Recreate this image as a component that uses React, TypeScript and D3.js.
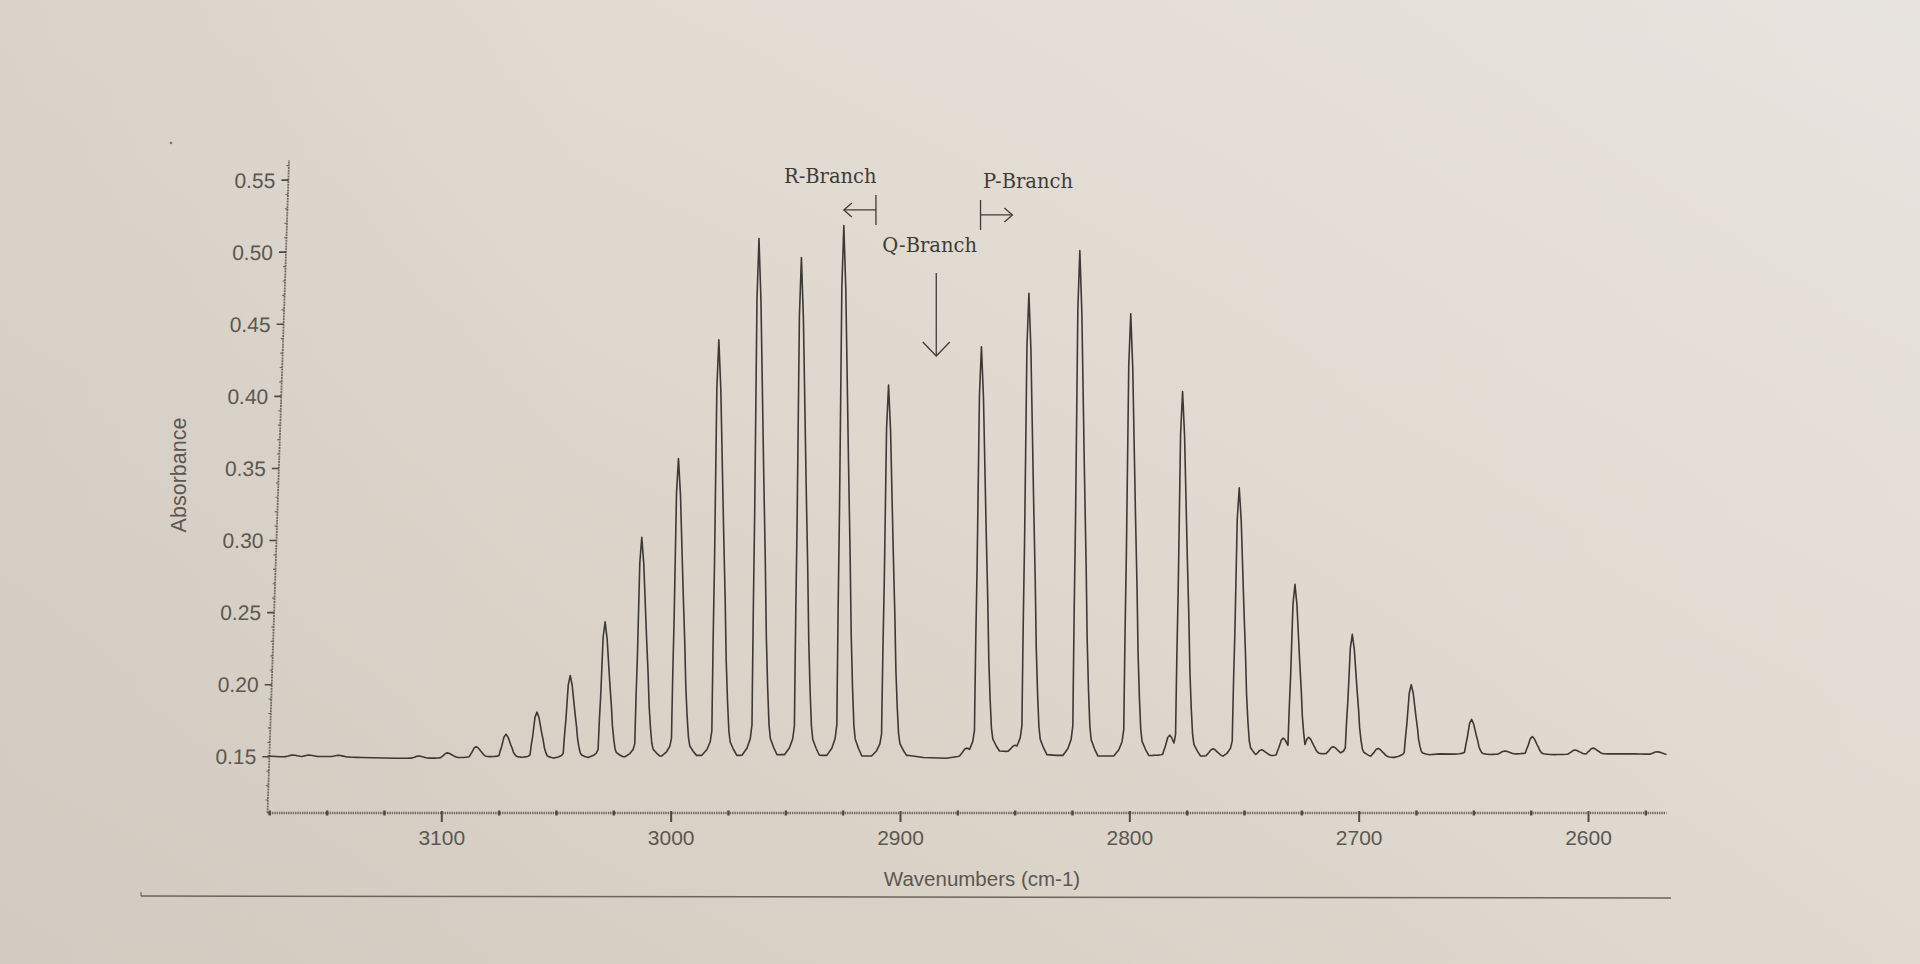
import React from "react";
import * as d3 from "d3";

// ---------- data ----------
const yTickValues = [0.15, 0.2, 0.25, 0.3, 0.35, 0.4, 0.45, 0.5, 0.55];
const yTickLabels = ["0.15", "0.20", "0.25", "0.30", "0.35", "0.40", "0.45", "0.50", "0.55"];
const xTickValues = [3100, 3000, 2900, 2800, 2700, 2600];
const xTickLabels = ["3100", "3000", "2900", "2800", "2700", "2600"];

// main rotational lines (R-branch then P-branch)
const peakWn = [3072, 3058.5, 3044, 3028.8, 3012.8, 2996.8, 2979.2, 2961.7, 2943.2, 2924.7, 2905.2,
  2864.7, 2844.0, 2821.8, 2799.6, 2777.0, 2752.3, 2728.0, 2703.0, 2677.3, 2651.0, 2624.5, 2598.0];
const peakAbs = [0.1656, 0.181, 0.2064, 0.2436, 0.3023, 0.3568, 0.4393, 0.5094, 0.4962, 0.5185, 0.4078,
  0.4343, 0.4715, 0.5012, 0.4573, 0.4034, 0.3365, 0.2696, 0.2349, 0.2, 0.176, 0.164, 0.156];

// small bumps near the baseline
const bumpWn = [3165, 3158, 3145, 3110, 3097.5, 3085, 2871.2, 2850, 2782.6, 2763.7, 2742.6, 2733.1,
  2722, 2711.3, 2691.7, 2636.5, 2605.9, 2570];
const bumpAbs = [0.1512, 0.1512, 0.151, 0.1505, 0.1527, 0.157, 0.156, 0.158, 0.165, 0.1555, 0.1548, 0.163,
  0.1635, 0.157, 0.1558, 0.154, 0.1547, 0.1535];

// baseline between the lines
const baseWn = [2566, 2580, 2590, 2615, 2630, 2645, 2665, 2685, 2697, 2715, 2740, 2758, 2770, 2789, 2810,
  2832, 2857, 2875, 2880, 2890, 2897, 2915, 2934, 2952, 2970, 2988, 3005, 3020, 3036, 3051, 3065, 3078,
  3090, 3104, 3120, 3135, 3150, 3170, 3176];
const baseAbs = [0.1515, 0.152, 0.152, 0.1515, 0.152, 0.1515, 0.152, 0.1495, 0.1505, 0.152, 0.1505, 0.15,
  0.1505, 0.151, 0.1505, 0.151, 0.154, 0.15, 0.149, 0.1495, 0.151, 0.1505, 0.151, 0.1515, 0.151, 0.151,
  0.1505, 0.15, 0.1495, 0.149, 0.1495, 0.15, 0.1495, 0.149, 0.149, 0.1495, 0.1502, 0.15, 0.1505];

// line shape read from the R(0) line: offset below centre (cm-1) -> fraction of height
const profileOffset = [-7.4, -5.2, -3.8, -3.05, -2.9, -2.47, -1.89, -0.87, 0, 0.87, 1.45, 2.03, 2.76, 3.2, 3.78, 4.36, 4.94, 6.4, 7.85];
const profileFrac = [0, 0.014, 0.032, 0.059, 0.122, 0.284, 0.464, 0.883, 1, 0.878, 0.716, 0.554, 0.374, 0.23, 0.13, 0.059, 0.032, 0.014, 0];

// annotations (anchored in data units)
const annoLabels = ["R-Branch", "P-Branch", "Q-Branch"];
const annoWn = [2950.8, 2864.0, 2907.9];
const annoAbs = [0.548, 0.5445, 0.5001];

const W = 1920;
const H = 964;

export default function App() {
  const x = d3.scaleLinear().domain([3176, 2566]).range([267.5, 1666.5]);
  const y = d3.scaleLinear().domain([0.111, 0.564]).range([813, 159.9]);

  const baseAt = d3.scaleLinear().domain(baseWn).range(baseAbs).clamp(true);
  const prof = d3.scaleLinear().domain(profileOffset).range(profileFrac).clamp(true);

  const peaks = peakWn.map((w, i) => ({ c: w, h: peakAbs[i] }))
    .concat(bumpWn.map((w, i) => ({ c: w, h: bumpAbs[i] })));

  const wnSet: number[] = [...baseWn];
  peaks.forEach((p) => profileOffset.forEach((o) => wnSet.push(p.c - o)));
  const [d0, d1] = [2566, 3176];
  const verts = Array.from(new Set(wnSet.filter((w) => w >= d0 && w <= d1)))
    .sort((a, b) => b - a)
    .map((w) => {
      let extra = 0;
      peaks.forEach((p) => {
        if (Math.abs(w - p.c) <= 8) {
          const v = prof(p.c - w) * (p.h - baseAt(p.c));
          if (v > extra) extra = v;
        }
      });
      return [w, baseAt(w) + extra] as [number, number];
    });

  const line = d3.line<[number, number]>().x((d) => x(d[0])).y((d) => y(d[1]));
  const pathD = line(verts) || "";

  const yB = y(0.111);
  const yTop = y(0.564);
  const xL = x(3176);
  const xR = x(2566);
  const skewAngle = 1.89;

  const textCol = "#5b5751";
  const axisCol = "#6f6a63";
  const lineCol = "#3d3935";
  const annoCol = "#3f3b37";

  const mediumTicks = d3.range(2575, 3176, 25).filter((v) => v % 100 !== 0);
  const minorY = d3.range(0.12, 0.565, 0.01);

  const ax = (i: number) => x(annoWn[i]);
  const ay = (i: number) => y(annoAbs[i]);

  // arrow anchors in data units
  const rBar = x(2910.7), rTip = x(2924.7);
  const pBar = x(2865.1), pTip = x(2851.2);
  const qX = x(2884.4);

  return (
    <svg width={W} height={H} style={{ position: "absolute", left: 0, top: 0 }}>
      <defs>
        <linearGradient id="bg" x1="1" y1="0" x2="0" y2="1">
          <stop offset="0" stopColor="#e7e3dd" />
          <stop offset="0.45" stopColor="#e0d9cf" />
          <stop offset="1" stopColor="#d3cbbf" />
        </linearGradient>
        <linearGradient id="bg2" x1="0" y1="0" x2="1" y2="0">
          <stop offset="0" stopColor="#cfcac3" stopOpacity="0.35" />
          <stop offset="0.3" stopColor="#cfcac3" stopOpacity="0" />
          <stop offset="1" stopColor="#ffffff" stopOpacity="0.05" />
        </linearGradient>
      </defs>
      <rect x={0} y={0} width={W} height={H} fill="url(#bg)" />
      <rect x={0} y={0} width={W} height={H} fill="url(#bg2)" />

      {/* x axis */}
      <line x1={xL} x2={xR} y1={yB} y2={yB} stroke={axisCol} strokeWidth={2.4} strokeDasharray="1.4 0.9" />
      {mediumTicks.map((v) => (
        <rect key={"m" + v} x={x(v) - 1.2} y={yB - 2.5} width={2.4} height={5} fill="#4e4a45" />
      ))}
      {xTickValues.map((v, i) => (
        <g key={"xt" + v}>
          <line x1={x(v)} x2={x(v)} y1={yB - 2} y2={yB + 9} stroke="#4e4a45" strokeWidth={2} />
          <text x={x(v)} y={845} textAnchor="middle" fontFamily="Liberation Sans, Arial, sans-serif" fontSize={21} fill={textCol}>
            {xTickLabels[i]}
          </text>
        </g>
      ))}
      <text x={982} y={886} textAnchor="middle" fontFamily="Liberation Sans, Arial, sans-serif" fontSize={20.5} fill={textCol}>
        Wavenumbers (cm-1)
      </text>

      {/* y axis (paper leans slightly) */}
      <g transform={`translate(0,${yB}) skewX(${-skewAngle}) translate(0,${-yB})`}>
        <line x1={xL} x2={xL} y1={yB} y2={yTop} stroke={axisCol} strokeWidth={1.8} strokeDasharray="2 0.8" />
        {minorY.map((v) => (
          <line key={"my" + v.toFixed(2)} x1={xL - 2.5} x2={xL} y1={y(v)} y2={y(v)} stroke={axisCol} strokeWidth={1.2} />
        ))}
        {yTickValues.map((v, i) => (
          <g key={"yt" + v}>
            <line x1={xL - 7} x2={xL} y1={y(v)} y2={y(v)} stroke="#4e4a45" strokeWidth={1.6} />
            <text x={254.5} y={y(v)} dy="0.36em" textAnchor="end" fontFamily="Liberation Sans, Arial, sans-serif" fontSize={21} fill={textCol}>
              {yTickLabels[i]}
            </text>
          </g>
        ))}
      </g>
      <text transform={`translate(178,475) rotate(-90)`} textAnchor="middle" dy="0.35em" fontFamily="Liberation Sans, Arial, sans-serif" fontSize={21.5} fill={textCol}>
        Absorbance
      </text>

      {/* spectrum */}
      <path d={pathD} fill="none" stroke={lineCol} strokeWidth={1.6} strokeLinejoin="round" />

      {/* annotations */}
      {annoLabels.map((t, i) => (
        <text key={t} x={ax(i)} y={ay(i)} fontFamily="DejaVu Serif, Liberation Serif, serif" fontSize={19.5} fill={annoCol}>
          {t}
        </text>
      ))}
      <g stroke={annoCol} strokeWidth={1.3} fill="none">
        <line x1={rTip} x2={rBar} y1={y(0.5293)} y2={y(0.5293)} />
        <polyline points={`${rTip + 8},${y(0.5293) - 7} ${rTip},${y(0.5293)} ${rTip + 8},${y(0.5293) + 7}`} />
        <line x1={rBar} x2={rBar} y1={y(0.5397)} y2={y(0.5189)} />
        <line x1={pBar} x2={pBar} y1={y(0.5362)} y2={y(0.5154)} />
        <line x1={pBar} x2={pTip} y1={y(0.5258)} y2={y(0.5258)} />
        <polyline points={`${pTip - 8},${y(0.5258) - 7} ${pTip},${y(0.5258)} ${pTip - 8},${y(0.5258) + 7}`} />
        <line x1={qX} x2={qX} y1={y(0.4856)} y2={y(0.428)} />
        <polyline points={`${qX - 13.5},${y(0.428) - 14} ${qX},${y(0.428)} ${qX + 13.5},${y(0.428) - 14}`} />
      </g>

      {/* separator rule under the plot */}
      <line x1={141} x2={1671} y1={896} y2={898} stroke="#6a655e" strokeWidth={1.5} />
      <line x1={141} x2={141} y1={896} y2={892} stroke="#6a655e" strokeWidth={1.2} />
      <circle cx={171} cy={143} r={1.3} fill="#7a756e" />
    </svg>
  );
}
